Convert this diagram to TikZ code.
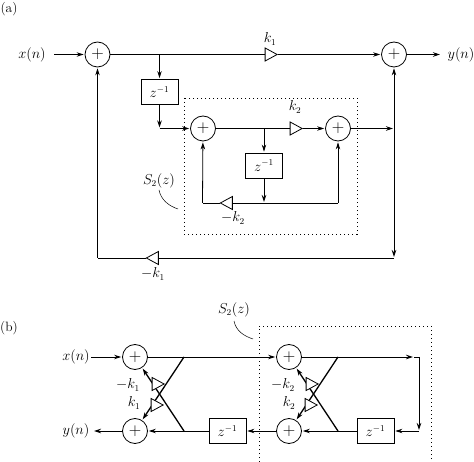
\documentclass[tikz,border=0pt]{standalone}
\usepackage{amsmath,amssymb}
\usetikzlibrary{arrows.meta,positioning,shapes.geometric}
\tikzset{
  sumnode/.style={circle,draw,fill=white,minimum size=25pt,inner sep=0pt,font=\LARGE},
  delaybox/.style={rectangle,draw,minimum width=37pt,minimum height=25pt,inner sep=0pt,font=\fontsize{13.5}{15}\selectfont},
  gainright/.style={isosceles triangle,isosceles triangle apex angle=57,draw,fill=white,minimum height=12pt,inner sep=0pt},
  gainleft/.style={gainright,shape border rotate=180},
  lab/.style={font=\fontsize{13.5}{15}\selectfont,inner sep=0pt},
  sig/.style={-{Stealth[length=7pt,width=4.5pt]},shorten >=1pt},
  cross/.style={line width=1.3pt},
  frame/.style={line width=0.9pt,dash pattern=on 1pt off 3pt}
}
\begin{document}
\begin{tikzpicture}[x=1pt,y=-1pt,line width=0.8pt]
    \useasboundingbox (0,0) rectangle (474,462);
    % summing junctions
    \foreach \name/\x/\y in {sa/97.5/54.5,sb/394/54.5,sc/203/128.5,sd/338/128.5,
                             se/135/357,sf/135/431,sg/289/357,sh/289/431} {
      \node[sumnode] (\name) at (\x,\y) {$+$};
    }
    % delays
    \foreach \name/\x/\y in {za/159.5/92,zb/264/165.5,zc/227.5/431,zd/375.5/431} {
      \node[delaybox] (\name) at (\x,\y) {$z^{-1}$};
    }
    % branch points and free ends
    \foreach \name/\x/\y in {ja/159.5/54.5,jb/159.5/128.5,jc/264/128.5,jd/264/203,
                             je/202.5/203,jf/338/203,jg/394/128.5,jh/394/258,ji/97.5/258,
                             ca/184/357,cb/184/431,cc/338/357,cd/419/357,ce/419/431,cf/338/431,
                             ia/54/54.5,oa/441/54.5,ib/91/357,ob/93/431,mb/414/357,
                             pa/178/209,pb/253/339,qa/159/190,qb/234/321} {
      \coordinate (\name) at (\x,\y);
    }
    % texts
    \node[lab] (xa) at (32,54.5) {$x(n)$};
    \node[lab] (ya) at (461,54.5) {$y(n)$};
    \node[lab] (xb) at (76,357) {$x(n)$};
    \node[lab] (yb) at (76,431) {$y(n)$};
    \node[lab] (la) at (9,9) {(a)};
    \node[lab] (lb) at (9,328) {(b)};
    \node[lab] (ka) at (270,39) {$k_1$};
    \node[lab] (kb) at (295,107) {$k_2$};
    \node[lab] (kc) at (233,218) {$-k_2$};
    \node[lab] (kd) at (153,274) {$-k_1$};
    \node[lab] (ke) at (128,385) {$-k_1$};
    \node[lab] (kf) at (134,403) {$k_1$};
    \node[lab] (kg) at (283,385) {$-k_2$};
    \node[lab] (kh) at (289,403) {$k_2$};
    \node[lab] (sza) at (159,181) {$S_2(z)$};
    \node[lab] (szb) at (234,310) {$S_2(z)$};
    % dotted frames
    \draw[frame] (184,98) rectangle (357,234);
    \draw[frame] (259,462) -- (259,326) -- (431,326) -- (431,462);
    \draw[line width=0.5pt] (qa) .. controls +(2,10) and +(-9,-3) .. (pa);
    \draw[line width=0.5pt] (qb) .. controls +(2,10) and +(-9,-3) .. (pb);
    % crossing branches, gains go on top
    \draw[cross,sig] (ca) -- (sf);
    \draw[cross,sig] (cb) -- (se);
    \draw[cross,sig] (cc) -- (sh);
    \draw[cross,sig] (cf) -- (sg);
    % gains
    \node[gainright] (ga) at (269,54.5) {};
    \node[gainright] (gb) at (294,128.5) {};
    \node[gainleft] (gc) at (228.5,203) {};
    \node[gainleft] (gd) at (154.5,258) {};
    \node[gainright] (ge) at (156,384) {};
    \node[gainright] (gf) at (155,405) {};
    \node[gainright] (gg) at (310,384) {};
    \node[gainright] (gh) at (309,405) {};
    % signal flow (a)
    \draw[sig] (ia) -- (sa);
    \draw (sa) -- (ga);
    \draw[sig] (ga) -- (sb);
    \draw[sig] (sb) -- (oa);
    \draw[sig] (ja) -- (za);
    \draw[sig] (za) -- (jb);
    \draw[sig] (jb) -- (sc);
    \draw (sc) -- (gb);
    \draw[sig] (gb) -- (sd);
    \draw[sig] (jc) -- (zb);
    \draw[sig] (zb) -- (jd);
    \draw (jf) -- (gc);
    \draw (gc) -- (je);
    \draw[sig] (je) -- (sc);
    \draw[sig] (jf) -- (sd);
    \draw[sig] (sd) -- (jg);
    \draw[sig] (jg) -- (sb);
    \draw[sig] (jg) -- (jh);
    \draw (jh) -- (gd);
    \draw (gd) -- (ji);
    \draw[sig] (ji) -- (sa);
    % signal flow (b)
    \draw[sig] (ib) -- (se);
    \draw[sig] (se) -- (sg);
    \draw[sig] (sg) -- (mb);
    \draw (mb) -- (cd);
    \draw[sig] (cd) -- (ce);
    \draw[sig] (ce) -- (zd);
    \draw[sig] (zd) -- (sh);
    \draw[sig] (sh) -- (zc);
    \draw[sig] (zc) -- (sf);
    \draw[sig] (sf) -- (ob);
  \end{tikzpicture}
\end{document}
